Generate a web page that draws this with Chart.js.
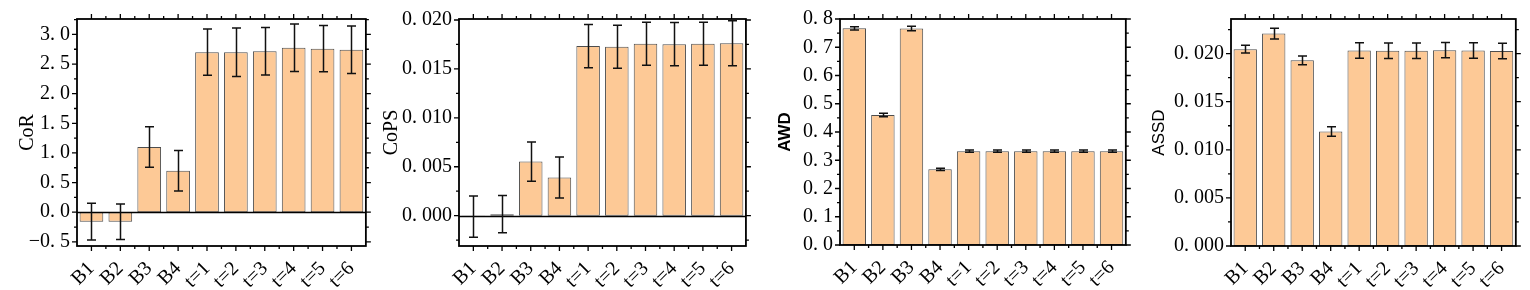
<!DOCTYPE html>
<html>
<head>
<meta charset="utf-8">
<title>Bar charts with error bars</title>
<script src="https://cdn.jsdelivr.net/npm/chart.js@4.4.0/dist/chart.umd.min.js"></script>
<style>
  body { margin: 0; background: #fff; }
  canvas { position: absolute; top: 0; }
</style>
</head>
<body>
<canvas id="corChart" width="380" height="290" style="left:0"></canvas>
<canvas id="copsChart" width="380" height="290" style="left:380px"></canvas>
<canvas id="awdChart" width="380" height="290" style="left:760px"></canvas>
<canvas id="assdChart" width="390" height="290" style="left:1140px"></canvas>
<script>
    // Data
    const categories = ['B1', 'B2', 'B3', 'B4', 't=1', 't=2', 't=3', 't=4', 't=5', 't=6'];

    const corValues = [-0.16, -0.16, 1.10, 0.70, 2.70, 2.70, 2.716, 2.775, 2.76, 2.74];
    const corErrors = [0.31, 0.30, 0.34, 0.34, 0.39, 0.41, 0.40, 0.40, 0.39, 0.40];
    const corTicks = [-0.5, 0, 0.5, 1.0, 1.5, 2.0, 2.5, 3.0];

    const copsValues = [-0.0001, 0.00015, 0.00553, 0.0039, 0.01733, 0.01727, 0.01757, 0.01753, 0.01757, 0.01763];
    const copsErrors = [0.0021, 0.0019, 0.0020, 0.0021, 0.0022, 0.0022, 0.0022, 0.0022, 0.0022, 0.0023];
    const copsTicks = [0, 0.005, 0.010, 0.015, 0.020];

    const awdValues = [0.767, 0.460, 0.766, 0.268, 0.332, 0.332, 0.332, 0.332, 0.332, 0.332];
    const awdErrors = [0.006, 0.006, 0.008, 0.004, 0.004, 0.004, 0.004, 0.004, 0.004, 0.004];
    const awdTicks = [0, 0.1, 0.2, 0.3, 0.4, 0.5, 0.6, 0.7, 0.8];

    const assdValues = [0.02046, 0.02209, 0.0193, 0.0119, 0.02033, 0.0203, 0.0203, 0.02036, 0.02033, 0.02027];
    const assdErrors = [0.0004, 0.00056, 0.00046, 0.0005, 0.0008, 0.0008, 0.0008, 0.0008, 0.0008, 0.0008];
    const assdTicks = [0, 0.005, 0.010, 0.015, 0.020];

    const BAR_FILL = '#fdc996';
    const BAR_EDGE = '#4d4d4d';
    const TICK_FONT = { family: '"Liberation Serif", serif', size: 20 };

    // frame, outward ticks, zero line and error bars
    const framePlugin = {
        id: 'frame',
        afterDatasetsDraw(chart, args, opts) {
            const { ctx, chartArea: a, scales: { x, y } } = chart;
            const errors = opts.errors || [];
            const values = chart.data.datasets[0].data;
            const meta = chart.getDatasetMeta(0);

            ctx.save();
            ctx.strokeStyle = '#000';

            if (opts.zeroLine) {
                const y0 = Math.round(y.getPixelForValue(0)) + 0.5;
                ctx.lineWidth = 1.6;
                ctx.beginPath();
                ctx.moveTo(a.left, y0);
                ctx.lineTo(a.right, y0);
                ctx.stroke();
            }

            // error bars
            ctx.strokeStyle = '#111';
            ctx.lineWidth = 1.5;
            meta.data.forEach((bar, i) => {
                const e = errors[i];
                if (!e) return;
                const xc = Math.round(bar.x) + 0.5;
                const yt = y.getPixelForValue(values[i] + e);
                const yb = y.getPixelForValue(values[i] - e);
                ctx.beginPath();
                ctx.moveTo(xc, yt); ctx.lineTo(xc, yb);
                ctx.moveTo(xc - 4.5, yt); ctx.lineTo(xc + 4.5, yt);
                ctx.moveTo(xc - 4.5, yb); ctx.lineTo(xc + 4.5, yb);
                ctx.stroke();
            });

            // frame
            ctx.strokeStyle = '#000';
            ctx.lineWidth = 1.8;
            ctx.strokeRect(a.left, a.top, a.right - a.left, a.bottom - a.top);

            ctx.lineWidth = 1.3;
            const major = 5, minor = 3;
            ctx.beginPath();
            // x ticks on bottom and top
            const catW = (a.right - a.left) / categories.length;
            categories.forEach((c, i) => {
                const xc = x.getPixelForValue(i);
                ctx.moveTo(xc, a.bottom); ctx.lineTo(xc, a.bottom + major);
                ctx.moveTo(xc, a.top); ctx.lineTo(xc, a.top - major);
                if (i > 0) {
                    const xm = xc - catW / 2;
                    ctx.moveTo(xm, a.bottom); ctx.lineTo(xm, a.bottom + minor);
                    ctx.moveTo(xm, a.top); ctx.lineTo(xm, a.top - minor);
                }
            });
            // y ticks on left and right
            const tv = opts.ticks;
            const step = tv[1] - tv[0];
            const minors = [];
            for (let k = -1; k < tv.length; k++) minors.push(tv[0] + (k + 0.5) * step);
            tv.forEach(v => {
                const yy = y.getPixelForValue(v);
                ctx.moveTo(a.left, yy); ctx.lineTo(a.left - major, yy);
                ctx.moveTo(a.right, yy); ctx.lineTo(a.right + major, yy);
            });
            minors.forEach(v => {
                if (v < y.min || v > y.max) return;
                const yy = y.getPixelForValue(v);
                ctx.moveTo(a.left, yy); ctx.lineTo(a.left - minor, yy);
                ctx.moveTo(a.right, yy); ctx.lineTo(a.right + minor, yy);
            });
            ctx.stroke();
            ctx.restore();
        }
    };

    function formatTick(v, decimals) {
        return v.toFixed(decimals).replace('.', '. ').replace('-', '\u2212');
    }

    function makePanel(cfg) {
        return new Chart(document.getElementById(cfg.id), {
            type: 'bar',
            data: {
                labels: categories,
                datasets: [{
                    data: cfg.values,
                    backgroundColor: BAR_FILL,
                    borderColor: BAR_EDGE,
                    borderWidth: 1,
                    borderSkipped: false,
                    categoryPercentage: 1.0,
                    barPercentage: 0.82
                }]
            },
            options: {
                responsive: false,
                animation: false,
                devicePixelRatio: 1,
                layout: { padding: { top: cfg.top, right: cfg.right, left: 0, bottom: 0 } },
                plugins: {
                    legend: { display: false },
                    tooltip: { enabled: false },
                    frame: { errors: cfg.errors, ticks: cfg.ticks, zeroLine: cfg.zeroLine }
                },
                scales: {
                    x: {
                        grid: { display: false, drawTicks: false },
                        border: { display: false },
                        ticks: {
                            color: '#000',
                            font: TICK_FONT,
                            minRotation: 45,
                            maxRotation: 45,
                            padding: 11,
                            autoSkip: false
                        },
                        afterFit: (scale) => { scale.height = 290 - cfg.bottom; }
                    },
                    y: {
                        min: cfg.min,
                        max: cfg.max,
                        grid: { display: false, drawTicks: false },
                        border: { display: false },
                        ticks: {
                            color: '#000',
                            font: TICK_FONT,
                            padding: 7,
                            callback: (v) => formatTick(v, cfg.decimals)
                        },
                        afterBuildTicks: (scale) => {
                            scale.ticks = cfg.ticks.map(v => ({ value: v }));
                        },
                        afterFit: (scale) => { scale.width = cfg.left; },
                        title: {
                            display: true,
                            text: cfg.title,
                            color: '#000',
                            font: cfg.titleFont,
                            padding: { top: cfg.titlePad, bottom: 0 }
                        }
                    }
                }
            },
            plugins: [framePlugin]
        });
    }

    makePanel({
        id: 'corChart', values: corValues, errors: corErrors, ticks: corTicks,
        min: -0.57, max: 3.26, decimals: 1, zeroLine: true,
        title: 'CoR', titleFont: { family: '"Liberation Serif", serif', size: 20 }, titlePad: 16,
        left: 77, right: 12, top: 8, bottom: 246
    });

    makePanel({
        id: 'copsChart', values: copsValues, errors: copsErrors, ticks: copsTicks,
        min: -0.0031, max: 0.0201, decimals: 3, zeroLine: true,
        title: 'CoPS', titleFont: { family: '"Liberation Serif", serif', size: 20 }, titlePad: 0,
        left: 79, right: 9, top: 14, bottom: 246
    });

    makePanel({
        id: 'awdChart', values: awdValues, errors: awdErrors, ticks: awdTicks,
        min: 0, max: 0.8, decimals: 1, zeroLine: false,
        title: 'AWD', titleFont: { family: '"Liberation Sans Narrow", "Liberation Sans", sans-serif', size: 17, weight: 'bold' }, titlePad: 15,
        left: 80, right: 10, top: 8, bottom: 245
    });

    makePanel({
        id: 'assdChart', values: assdValues, errors: assdErrors, ticks: assdTicks,
        min: 0, max: 0.0236, decimals: 3, zeroLine: false,
        title: 'ASSD', titleFont: { family: '"Liberation Sans Narrow", "Liberation Sans", sans-serif', size: 17 }, titlePad: 9,
        left: 91, right: 9, top: 9, bottom: 246
    });
</script>
</body>
</html>
